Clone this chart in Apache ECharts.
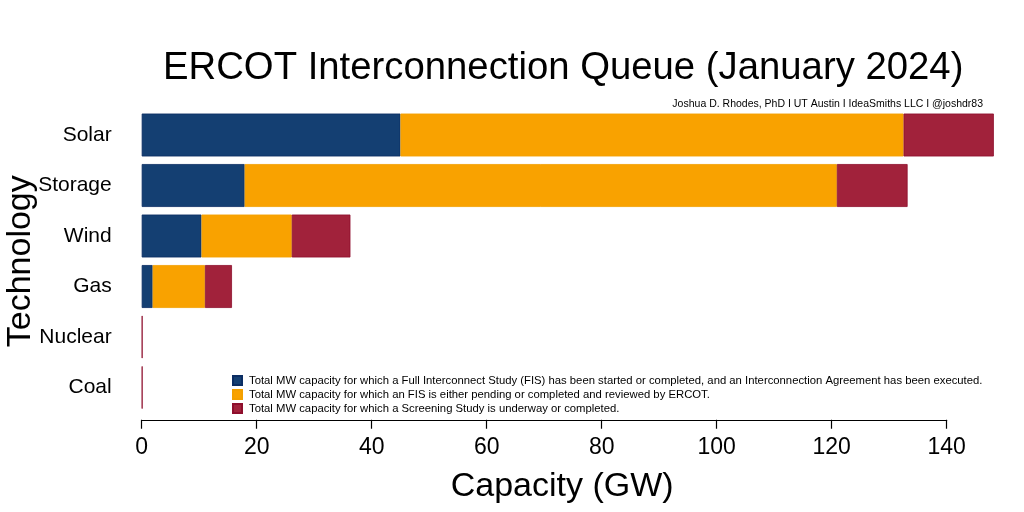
<!DOCTYPE html>
<html>
<head>
<meta charset="utf-8">
<script src="https://cdn.jsdelivr.net/npm/echarts@6/dist/echarts.min.js"></script>
<style>
html,body{margin:0;padding:0;background:#fff;}
#chart{width:1024px;height:512px;}
</style>
</head>
<body>
<div id="chart"></div>
<script>
const categories = ["Solar", "Storage", "Wind", "Gas", "Nuclear", "Coal"];
const fisExecuted = [45.0, 17.9, 10.4, 1.9, '-', '-'];
const fisPending = [87.5, 103.0, 15.7, 9.1, '-', '-'];
const screening = [15.7, 12.3, 10.2, 4.7, 0.15, 0.15];
const seriesNames = [
  "Total MW capacity for which a Full Interconnect Study (FIS) has been started or completed, and an Interconnection Agreement has been executed.",
  "Total MW capacity for which an FIS is either pending or completed and reviewed by ERCOT.",
  "Total MW capacity for which a Screening Study is underway or completed."
];
const xTicks = [0, 20, 40, 60, 80, 100, 120, 140];

const FONT = "Liberation Sans, Arial, Helvetica, sans-serif";
const colors = ["#143f72", "#f9a200", "#a1223b"];
const borders = ["#0b2d63", "#f3a000", "#8e0e2c"];
const dataSets = [fisExecuted, fisPending, screening];

const chart = echarts.init(document.getElementById('chart'), null, {renderer: 'canvas'});
chart.setOption({
  animation: false,
  backgroundColor: '#ffffff',
  title: {
    text: 'ERCOT Interconnection Queue (January 2024)',
    left: 158, top: 44,
    textStyle: {fontFamily: FONT, fontSize: 38.3, fontWeight: 'normal', color: '#000'}
  },
  graphic: [{
    type: 'text', right: 41, top: 99,
    style: {text: 'Joshua D. Rhodes, PhD I UT Austin I IdeaSmiths LLC I @joshdr83', font: '10.5px ' + FONT, fill: '#000'}
  }],
  legend: {
    orient: 'vertical', left: 227, top: 370,
    itemWidth: 9, itemHeight: 9, itemGap: 3,
    icon: 'rect',
    textStyle: {fontFamily: FONT, fontSize: 11.3, lineHeight: 11, color: '#000', padding: [0,0,0,2]},
    data: seriesNames
  },
  grid: {left: 141.7, right: 77.3, top: 109.75, bottom: 99.25, containLabel: false, outerBoundsMode: 'none'},
  xAxis: {
    type: 'value', min: 0, max: 140, interval: 20,
    offset: 7,
    name: 'Capacity (GW)', nameLocation: 'middle', nameGap: 50, nameMoveOverlap: false,
    nameTextStyle: {fontFamily: FONT, fontSize: 34, color: '#000', padding: [0,0,0,36]},
    axisLine: {show: true, lineStyle: {color: '#000', width: 1.2}},
    axisTick: {show: true, length: 9, lineStyle: {color: '#000', width: 1.2}},
    axisLabel: {fontFamily: FONT, fontSize: 23, color: '#000', margin: 16,
      formatter: v => xTicks.includes(v) ? String(v) : ''},
    splitLine: {show: false}
  },
  yAxis: {
    type: 'category', inverse: true, data: categories,
    name: 'Technology', nameLocation: 'middle', nameGap: 104, nameRotate: 90, nameMoveOverlap: false,
    nameTextStyle: {fontFamily: FONT, fontSize: 34, color: '#000'},
    axisLine: {show: false}, axisTick: {show: false},
    axisLabel: {fontFamily: FONT, fontSize: 21, color: '#000', margin: 30}
  },
  series: dataSets.map((d, i) => ({
    name: seriesNames[i], type: 'bar', stack: 'total',
    barCategoryGap: '15%',
    clip: false,
    data: d,
    itemStyle: {color: colors[i], borderColor: borders[i], borderWidth: 0.8}
  }))
});
</script>
</body>
</html>
